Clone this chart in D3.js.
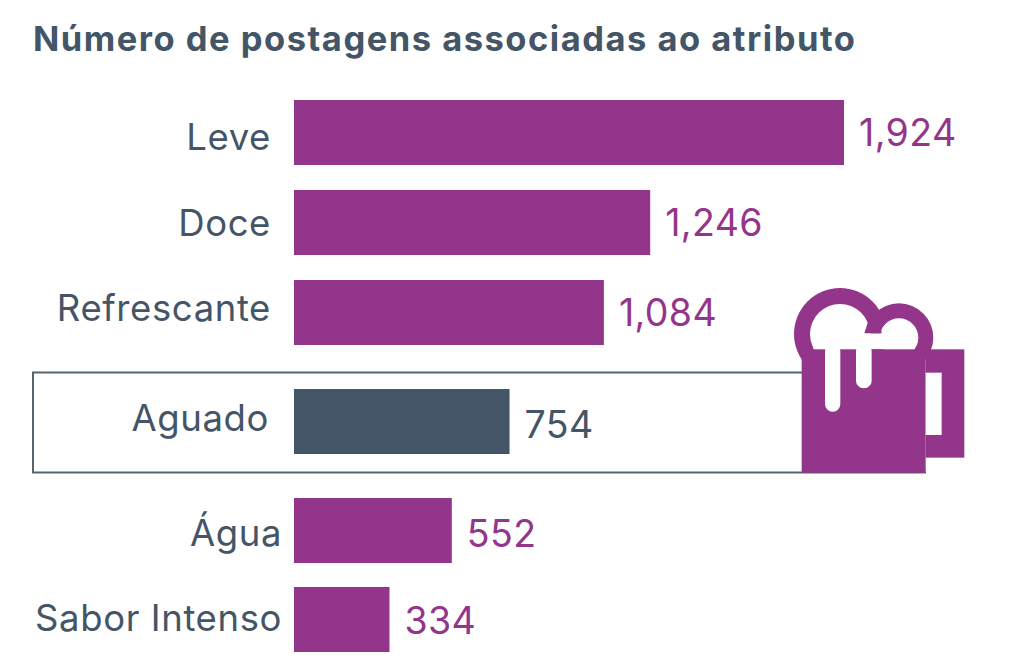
<!DOCTYPE html>
<html lang="pt">
<head>
<meta charset="utf-8">
<script src="https://cdnjs.cloudflare.com/ajax/libs/d3/7.8.5/d3.min.js"></script>
<style>
  html, body { margin: 0; background: #fff; }
  svg { display: block; }
  text { font-family: Inter, "Noto Sans", sans-serif; }
</style>
</head>
<body>
<svg id="chart" width="1024" height="668"></svg>
<script>
const titleText = "Número de postagens associadas ao atributo";
const categories = ["Leve", "Doce", "Refrescante", "Aguado", "Água", "Sabor Intenso"];
const mentions = [1924, 1246, 1084, 754, 552, 334];
const highlighted = "Aguado";

const purple = "#93358a";
const slate = "#445567";

const svg = d3.select("#chart");

svg.append("text")
  .attr("x", 33).attr("y", 51)
  .attr("font-size", 34.5).attr("font-weight", 700)
  .attr("letter-spacing", 1.5)
  .attr("fill", slate)
  .text(titleText);

const x = d3.scaleLinear().domain([0, 1924]).range([294, 844]);
const hiIndex = categories.indexOf(highlighted);

// Rows on a 90px step; those around the highlighted one are pushed apart for its frame.
const rowStep = d3.scaleLinear().domain([0, categories.length]).range([100, 640]);
const frameGap = 19;
const rowY = (i) => rowStep(i) + (i >= hiIndex ? frameGap : 0) + (i > hiIndex ? frameGap : 0) - (i === 5 ? 1 : 0);
const barH = 65;

// Each label sits a little differently against its bar.
const labelDrop = [50, 46, 41, 42, 48, 44];
const valueDrop = [46, 46, 46, 49, 49, 47];
const labelGap = (i) => i > hiIndex ? 12 : (i === hiIndex ? 25 : 23);

// Frame around the highlighted row, open on the right where the mug sits.
svg.append("path")
  .attr("d", "M926,472.5H33V372.5H805")
  .attr("fill", "none")
  .attr("stroke", "#56646f")
  .attr("stroke-width", 2);

const rows = svg.selectAll("g.row")
  .data(categories.map((c, i) => ({ c, i, v: mentions[i] })))
  .join("g").attr("class", "row");

rows.append("rect")
  .attr("x", x(0))
  .attr("y", d => rowY(d.i))
  .attr("width", d => x(d.v) - x(0))
  .attr("height", barH)
  .attr("fill", d => d.c === highlighted ? slate : purple);

rows.append("text")
  .attr("x", d => x(0) - labelGap(d.i))
  .attr("y", d => rowY(d.i) + labelDrop[d.i])
  .attr("text-anchor", "end")
  .attr("font-size", 36.5)
  .attr("font-weight", 400)
  .attr("letter-spacing", 0.6)
  .attr("fill", slate)
  .text(d => d.c);

rows.append("text")
  .attr("x", d => x(d.v) + 15)
  .attr("y", d => rowY(d.i) + valueDrop[d.i])
  .attr("font-size", 37.5)
  .attr("font-weight", 400)
  .attr("letter-spacing", 0.4)
  .attr("fill", d => d.c === highlighted ? slate : purple)
  .text(d => d3.format(",")(d.v));

// Beer mug icon, drawn on a 3x grid: foam first, then the body over it, then the drips.
const mug = svg.append("g").attr("transform", "translate(780,280) scale(0.3333)");
const shape = (tag, attrs, fill) => {
  const el = mug.append(tag).attr("fill", fill);
  Object.entries(attrs).forEach(([k, v]) => el.attr(k, v));
};
shape("circle", { cx: 180, cy: 162, r: 138 }, purple);
shape("circle", { cx: 357, cy: 173, r: 103 }, purple);
shape("circle", { cx: 180, cy: 162, r: 90 }, "#fff");
shape("circle", { cx: 357, cy: 173, r: 58 }, "#fff");
shape("rect", { x: 100, y: 160, width: 305, height: 48 }, "#fff");
shape("path", { d: "M265,122L253,160H305L300,120L280,90Z" }, purple);
shape("rect", { x: 65, y: 208, width: 372, height: 370 }, purple);
shape("rect", { x: 437, y: 208, width: 116, height: 325 }, purple);
shape("rect", { x: 437, y: 278, width: 48, height: 187 }, "#fff");
shape("rect", { x: 135, y: 190, width: 46, height: 205, rx: 23 }, "#fff");
shape("rect", { x: 228, y: 190, width: 47, height: 135, rx: 23 }, "#fff");
</script>
</body>
</html>
